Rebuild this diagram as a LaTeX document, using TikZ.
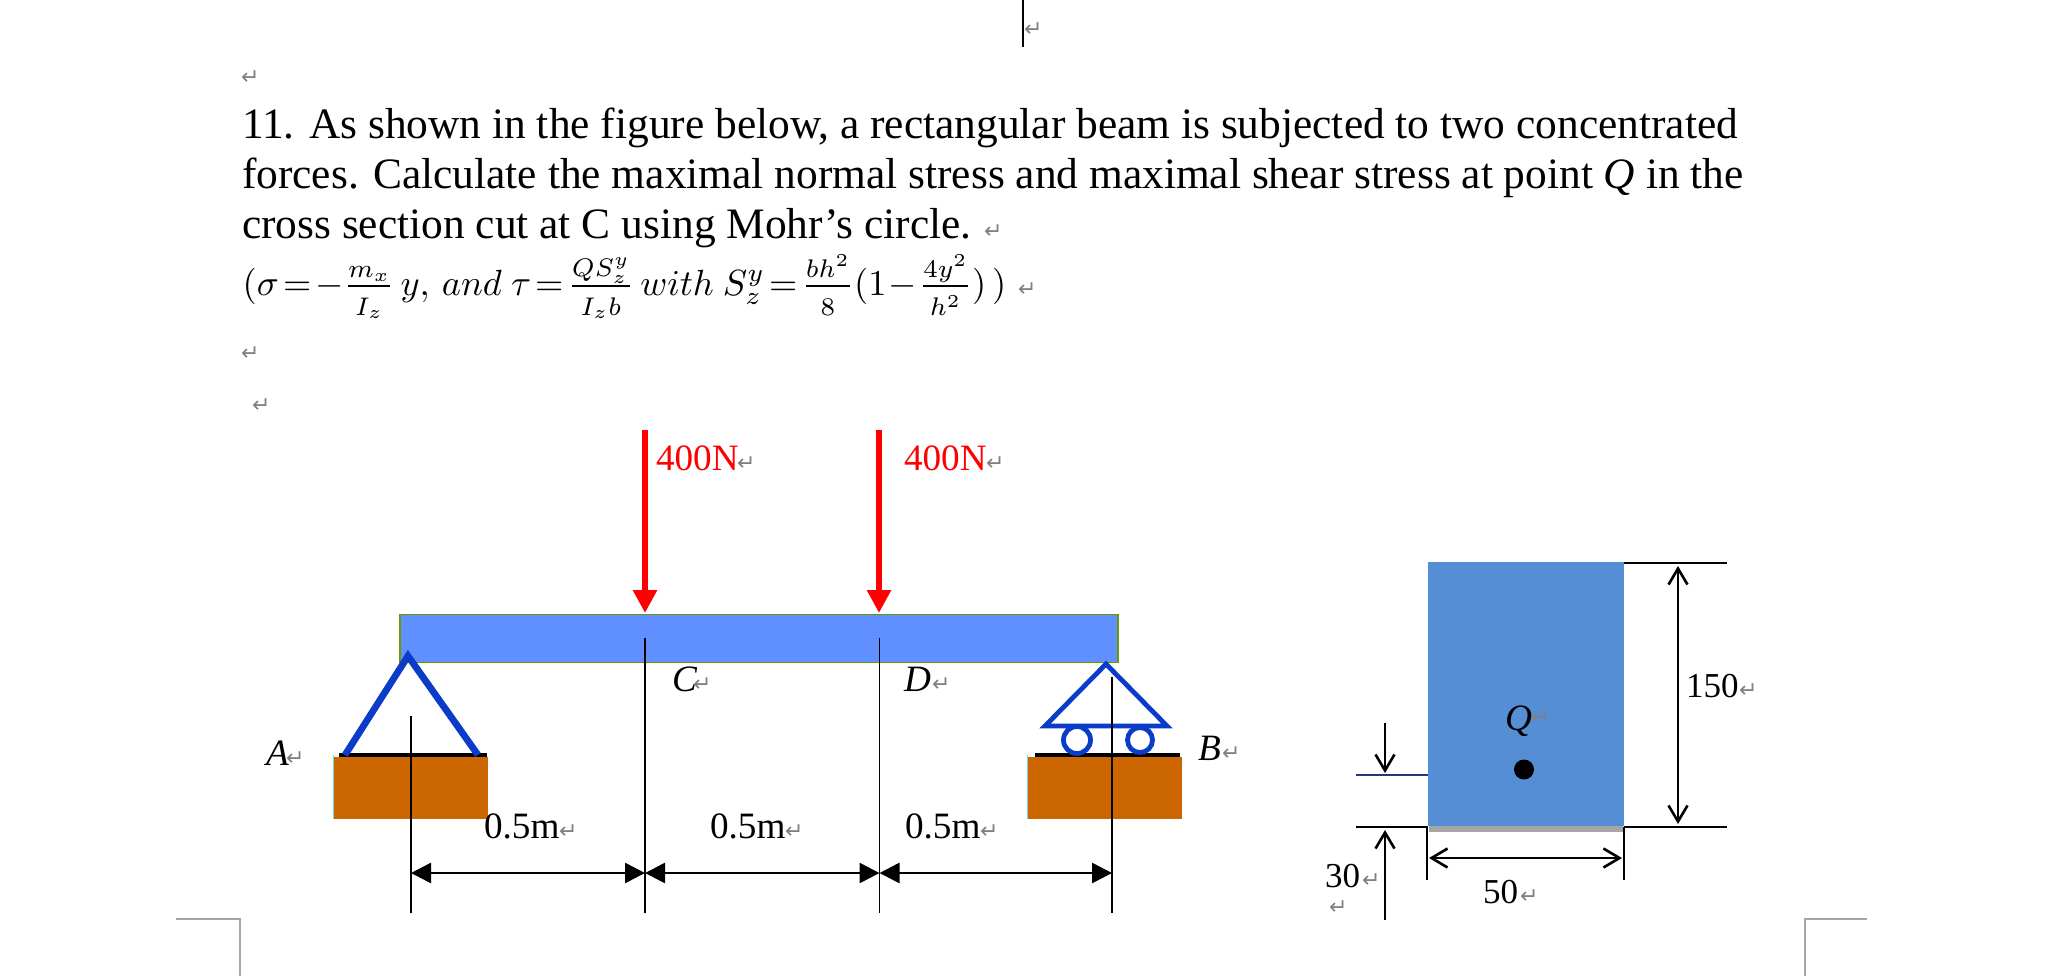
\documentclass[tikz,border=0pt]{standalone}
\usepackage{fontspec}
\usepackage{amsmath}
\setmainfont{Liberation Serif}
\newfontfamily\retfont{DejaVu Sans}
\usetikzlibrary{arrows.meta}
\definecolor{beamfill}{HTML}{6090FF}
\definecolor{beamedge}{HTML}{6A9A00}
\definecolor{supportblue}{HTML}{0B3CC9}
\definecolor{groundfill}{HTML}{CC6600}
\definecolor{groundedge}{HTML}{70DDDD}
\definecolor{secfill}{HTML}{558ED5}
\definecolor{retgray}{HTML}{808080}
\definecolor{cornergray}{HTML}{A6A6A6}
\definecolor{navyline}{HTML}{1F3A7A}
\newcommand{\retmark}{{\retfont\fontsize{11}{11}\selectfont\textcolor{retgray}{↵}}}
\newcommand{\tfr}[2]{\frac{\rule[-1.6pt]{0pt}{1pt}#1}{\rule{0pt}{7.4pt}#2}}
\tikzset{
  txt/.style={anchor=base west,inner sep=0pt,outer sep=0pt,font=\fontsize{21.7}{25}\selectfont},
  lbl/.style={anchor=base west,inner sep=0pt,outer sep=0pt,font=\fontsize{18.6}{22}\selectfont},
  numlbl/.style={anchor=base west,inner sep=0pt,outer sep=0pt,font=\fontsize{17.5}{22}\selectfont},
  lblit/.style={lbl,font=\fontsize{18.6}{22}\selectfont\itshape},
  redlbl/.style={lbl,text=red},
  retnode/.style={anchor=base west,inner sep=0pt,outer sep=0pt},
  force/.style={red,line width=3.2pt,-{Triangle[length=11.5pt,width=11.5pt]}},
  guide/.style={black,line width=0.9pt},
  span/.style={black,line width=1.3pt,{Triangle[length=10pt,width=10pt]}-{Triangle[length=10pt,width=10pt]}},
  opendim/.style={black,line width=1.3pt,{Straight Barb[length=8pt,width=9.5pt]}-{Straight Barb[length=8pt,width=9.5pt]}},
  openarrow/.style={black,line width=1.3pt,-{Straight Barb[length=8pt,width=9.5pt]}},
  ext/.style={black,line width=0.9pt},
  support/.style={supportblue,line join=miter},
  corner/.style={cornergray,line width=1pt},
}
\begin{document}
\begin{tikzpicture}[x=0.5pt,y=-0.5pt]
\useasboundingbox (0,0) rectangle (2046,976);
\fill[white] (0,0) rectangle (2046,976);

% page furniture
\coordinate (topA) at (1023,0); \coordinate (topB) at (1023,47);
\draw[black,line width=0.9pt] (topA) -- (topB);
\node[retnode] (rtop) at (1024,36) {\retmark};
\coordinate (cl1) at (176,919); \coordinate (cl2) at (240,919); \coordinate (cl3) at (240,976);
\draw[corner] (cl1) -- (cl2) -- (cl3);
\coordinate (cr1) at (1867,919); \coordinate (cr2) at (1805,919); \coordinate (cr3) at (1805,976);
\draw[corner] (cr1) -- (cr2) -- (cr3);

% statement
\node[retnode] (r0) at (241,84) {\retmark};
\node[txt] (line1) at (242,138) {11. As shown in the figure below, a rectangular beam is subjected to two concentrated};
\node[txt] (line2) at (242,188) {forces. Calculate the maximal normal stress and maximal shear stress at point \textit{Q} in the};
\node[txt] (line3) at (242,238) {cross section cut at C using Mohr’s circle.};
\node[retnode] (r1) at (984,238) {\retmark};
\node[anchor=base west,inner sep=0pt,scale=1.82] (formula) at (242,295)
  {$\thickmuskip=2mu\medmuskip=1mu(\sigma=-\tfr{m_x}{I_z}\,y,\,and\ \tau=\tfr{QS_z^y}{I_zb}\,with\ S_z^y=\tfr{bh^2}{8}(1-\tfr{4y^2}{h^2})\,)$};
\node[retnode] (r2) at (1018,296) {\retmark};
\node[retnode] (r3) at (241,360) {\retmark};
\node[retnode] (r4) at (252,412) {\retmark};

% ground blocks
\fill[groundfill] (334,757) rectangle (488,819);
\draw[groundedge,line width=0.6pt] (333.5,755) -- (333.5,819);
\fill[groundfill] (1028,757) rectangle (1182,819);
\draw[groundedge,line width=0.6pt] (1027.5,755) -- (1027.5,819);
\coordinate (gA1) at (339,755); \coordinate (gA2) at (487,755);
\coordinate (gB1) at (1035,755); \coordinate (gB2) at (1180,755);
\draw[black,line width=2pt] (gA1) -- (gA2);
\draw[black,line width=2pt] (gB1) -- (gB2);

% beam
\draw[draw=beamedge,fill=beamfill,line width=0.9pt] (400,614.5) rectangle (1118,662.5);

% supports
\coordinate (pA) at (408,656); \coordinate (pAl) at (345,755); \coordinate (pAr) at (478,755);
\draw[support,line width=3.4pt] (pAl) -- (pA) -- (pAr);
\coordinate (pB) at (1106,664); \coordinate (pBl) at (1045,726); \coordinate (pBr) at (1167,726);
\draw[support,line width=2.4pt] (pB) -- (pBl) -- (pBr) -- cycle;
\draw[support,line width=2.4pt] (1077,740) circle (13.5);
\draw[support,line width=2.4pt] (1140,740) circle (12.5);

% guides
\coordinate (a0) at (411,716); \coordinate (a1) at (411,913); \coordinate (am) at (411,873);
\coordinate (c0) at (645,638); \coordinate (c1) at (645,913); \coordinate (cm) at (645,873);
\coordinate (d0) at (879.5,638); \coordinate (d1) at (879.5,913); \coordinate (dm) at (879.5,873);
\coordinate (b0) at (1112,677); \coordinate (b1) at (1112,913); \coordinate (bm) at (1112,873);
\draw[guide] (a0) -- (a1);
\draw[guide] (c0) -- (c1);
\draw[guide] (d0) -- (d1);
\draw[guide] (b0) -- (b1);
\draw[span] (am) -- (cm);
\draw[span] (cm) -- (dm);
\draw[span] (dm) -- (bm);

% forces
\coordinate (f1a) at (645,430); \coordinate (f1b) at (645,613);
\coordinate (f2a) at (879,430); \coordinate (f2b) at (879,613);
\draw[force] (f1a) -- (f1b);
\draw[force] (f2a) -- (f2b);
\node[redlbl] (n1) at (656,470) {400N};
\node[retnode] (rn1) at (737,470) {\retmark};
\node[redlbl] (n2) at (904,470) {400N};
\node[retnode] (rn2) at (986,470) {\retmark};

% beam labels
\node[lblit] (lA) at (266,765) {A};
\node[retnode] (rA) at (286,765) {\retmark};
\node[lblit] (lC) at (672,691) {C};
\node[retnode] (rC) at (693,691) {\retmark};
\node[lblit] (lD) at (904,691) {D};
\node[retnode] (rD) at (932,691) {\retmark};
\node[lblit] (lB) at (1198,760) {B};
\node[retnode] (rB) at (1222,760) {\retmark};
\node[lbl] (m1) at (484,838) {0.5m};
\node[retnode] (rm1) at (559,838) {\retmark};
\node[lbl] (m2) at (710,838) {0.5m};
\node[retnode] (rm2) at (785,838) {\retmark};
\node[lbl] (m3) at (905,838) {0.5m};
\node[retnode] (rm3) at (980,838) {\retmark};

% cross section
\fill[cornergray] (1429,826) rectangle (1623,832);
\fill[secfill] (1428,562) rectangle (1624,826);
\coordinate (e1) at (1624,563); \coordinate (e2) at (1727,563);
\coordinate (e3) at (1624,827); \coordinate (e4) at (1727,827);
\coordinate (e5) at (1356,827); \coordinate (e6) at (1427,827);
\coordinate (e7) at (1427,880); \coordinate (e8) at (1624,880);
\draw[ext] (e1) -- (e2);
\draw[ext] (e3) -- (e4);
\draw[ext] (e5) -- (e6) -- (e7);
\draw[ext] (e3) -- (e8);
\coordinate (h1) at (1678,566); \coordinate (h2) at (1678,824);
\draw[opendim] (h1) -- (h2);
\coordinate (w1) at (1429,858); \coordinate (w2) at (1622,858);
\draw[opendim] (w1) -- (w2);
\coordinate (q1) at (1385,920); \coordinate (q2) at (1385,830);
\draw[openarrow] (q1) -- (q2);
\coordinate (q3) at (1385,723); \coordinate (q4) at (1385,773);
\draw[openarrow] (q3) -- (q4);
\coordinate (n1a) at (1356,775); \coordinate (n1b) at (1428,775);
\draw[navyline,line width=0.8pt] (n1a) -- (n1b);
\fill[black] (1524,769.5) circle (10);
\node[lblit] (lQ) at (1505,730) {Q};
\node[retnode] (rQ) at (1531,724) {\retmark};
\node[numlbl] (d150) at (1686,697) {150};
\node[retnode] (r150) at (1739,697) {\retmark};
\node[numlbl] (d30) at (1325,887) {30};
\node[retnode] (r30) at (1362,887) {\retmark};
\node[retnode] (r30b) at (1329,914) {\retmark};
\node[numlbl] (d50) at (1483,903) {50};
\node[retnode] (r50) at (1520,903) {\retmark};
\end{tikzpicture}
\end{document}
